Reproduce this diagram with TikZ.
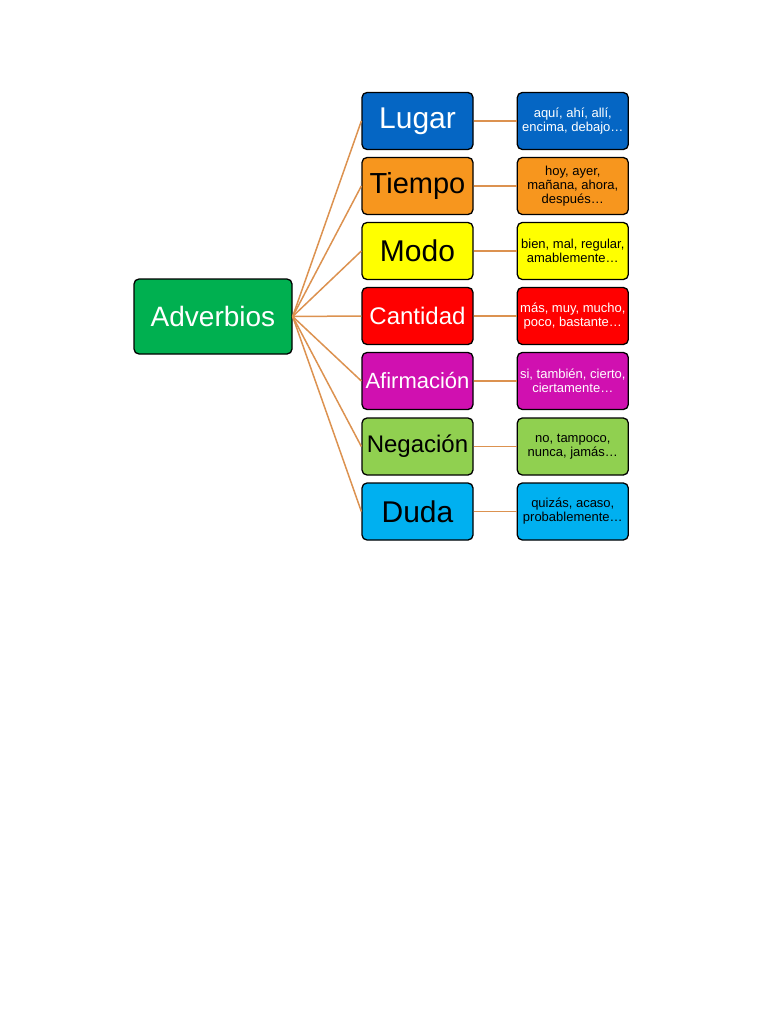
\documentclass[tikz,border=0pt]{standalone}
\usepackage{fontspec}
\setmainfont{Liberation Sans}
\usepackage{xcolor}
\usetikzlibrary{positioning}
\definecolor{raiz}{HTML}{00B050}
\definecolor{lugarc}{HTML}{0566C4}
\definecolor{tiempoc}{HTML}{F7961E}
\definecolor{modoc}{HTML}{FFFF00}
\definecolor{cantc}{HTML}{FF0000}
\definecolor{afirc}{HTML}{D010B0}
\definecolor{negc}{HTML}{90D050}
\definecolor{dudac}{HTML}{00B0F0}
\definecolor{ramac}{HTML}{DC9250}
\tikzset{
  caja/.style={
    draw=black,
    line width=1.3pt,
    rounded corners=5pt,
    minimum width=111pt,
    minimum height=57pt,
    align=center,
    inner sep=2pt
  },
  tipo/.style={caja,font=\fontsize{30}{32}\selectfont},
  ejemplo/.style={caja,font=\fontsize{13}{14}\selectfont},
  rama/.style={draw=ramac,line width=1.5pt}
}

\begin{document}
\begin{tikzpicture}[x=1pt,y=-1pt]
  \useasboundingbox (0,0) rectangle (768,1024);
  % raiz
  \node[caja,fill=raiz,text=white,minimum width=158pt,minimum height=75pt,
    font=\fontsize{28}{30}\selectfont] (adv) at (213,316.5) {Adverbios};
  % tipos
  \node[tipo,fill=lugarc,text=white] (lugar) at (417.5,121) {Lugar};
  \node[tipo,fill=tiempoc,font=\fontsize{29}{31}\selectfont] (tiempo) at (417.5,186) {Tiempo};
  \node[tipo,fill=modoc] (modo) at (417.5,251) {Modo};
  \node[tipo,fill=cantc,text=white,font=\fontsize{24}{26}\selectfont] (cant) at (417.5,316) {Cantidad};
  \node[tipo,fill=afirc,text=white,font=\fontsize{22}{24}\selectfont] (afir) at (417.5,381) {Afirmación};
  \node[tipo,fill=negc,font=\fontsize{24}{26}\selectfont] (neg) at (417.5,446.5) {Negación};
  \node[tipo,fill=dudac] (duda) at (417.5,511.5) {Duda};
  % ejemplos
  \node[ejemplo,fill=lugarc,text=white,right=43pt of lugar] (ejlugar) {aquí, ahí, allí,\\encima, debajo\dots};
  \node[ejemplo,fill=tiempoc,right=43pt of tiempo] (ejtiempo) {hoy, ayer,\\mañana, ahora,\\después\dots};
  \node[ejemplo,fill=modoc,right=43pt of modo] (ejmodo) {bien, mal, regular,\\amablemente\dots};
  \node[ejemplo,fill=cantc,text=white,right=43pt of cant] (ejcant) {más, muy, mucho,\\poco, bastante\dots};
  \node[ejemplo,fill=afirc,text=white,right=43pt of afir] (ejafir) {si, también, cierto,\\ciertamente\dots};
  \node[ejemplo,fill=negc,right=43pt of neg] (ejneg) {no, tampoco,\\nunca, jamás\dots};
  \node[ejemplo,fill=dudac,right=43pt of duda] (ejduda) {quizás, acaso,\\probablemente\dots};
  % ramas
  \draw[rama] (adv.east) -- (lugar.west);
  \draw[rama] (adv.east) -- (tiempo.west);
  \draw[rama] (adv.east) -- (modo.west);
  \draw[rama] (adv.east) -- (cant.west);
  \draw[rama] (adv.east) -- (afir.west);
  \draw[rama] (adv.east) -- (neg.west);
  \draw[rama] (adv.east) -- (duda.west);
  \draw[rama] (lugar) -- (ejlugar);
  \draw[rama] (tiempo) -- (ejtiempo);
  \draw[rama] (modo) -- (ejmodo);
  \draw[rama] (cant) -- (ejcant);
  \draw[rama] (afir) -- (ejafir);
  \draw[rama] (neg) -- (ejneg);
  \draw[rama] (duda) -- (ejduda);
\end{tikzpicture}
\end{document}
